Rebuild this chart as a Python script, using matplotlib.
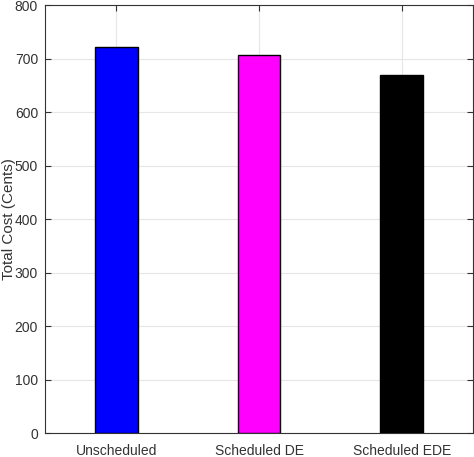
import numpy as np
import matplotlib.pyplot as plt

# Valores
categories = ["Unscheduled", "Scheduled DE", "Scheduled EDE"]
total_cost = [721, 707, 669]
colors = ["#0000ff", "#ff00ff", "#000000"]
y_ticks = [0, 100, 200, 300, 400, 500, 600, 700, 800]

plt.rcParams['font.family'] = ['Liberation Sans', 'DejaVu Sans']

fig = plt.figure(figsize=(4.74, 4.57), dpi=100)
ax = fig.add_axes([0.095, 0.0525, 0.903, 0.9365])

x = np.arange(1, len(categories) + 1)
ax.bar(x, total_cost, width=0.3, color=colors, edgecolor="black", linewidth=1.0, zorder=3)

ax.set_xlim(0.5, 3.5)
ax.set_ylim(0, 800)
ax.set_xticks(x)
ax.set_xticklabels(categories, fontsize=10, color="#333333")
ax.set_yticks(y_ticks)
ax.tick_params(axis='y', labelsize=10, labelcolor="#333333", pad=5)
ax.tick_params(axis='x', pad=8)
ax.tick_params(direction='in', length=4, top=True, right=True, color="#333333")
ax.grid(True, color="#e6e6e6", linewidth=0.8, zorder=0)
ax.set_axisbelow(True)
for s in ax.spines.values():
    s.set_color("#333333")
    s.set_linewidth(0.8)

ax.set_ylabel("Total Cost (Cents)", fontsize=11, color="#333333")
ax.yaxis.set_label_coords(-0.068, 0.5)

fig.savefig("out.png", dpi=100)
